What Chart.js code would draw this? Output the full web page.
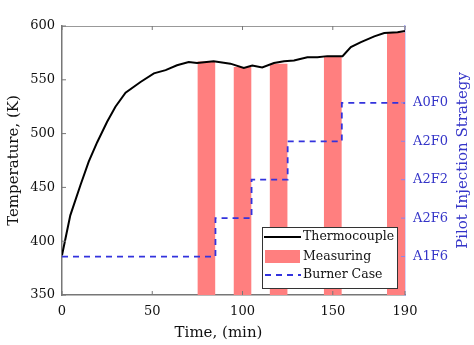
<!DOCTYPE html>
<html>
<head>
<meta charset="utf-8">
<script src="https://cdn.jsdelivr.net/npm/chart.js@4.4.0/dist/chart.umd.min.js"></script>
<style>
    html, body { margin: 0; padding: 0; background: #fff; }
    #wrap { width: 474px; height: 345px; position: relative; }
</style>
</head>
<body>
<div id="wrap"><canvas id="chart"></canvas></div>
<script>
// thermocouple reading over time
const timeMin = [0, 4.6, 10.2, 14.8, 19.5, 25, 29.6, 35.2, 43.5, 50.9, 57.4, 63.7, 70.2, 74.8, 84, 93.3,
    100.7, 105.4, 110.9, 117.4, 123, 128.5, 135.9, 141.5, 147, 155.4, 160, 165.6, 173, 178.5, 185.9, 190];
const tempK = [387, 424, 452, 474, 492, 511, 525, 538, 548, 556, 559, 563.5, 566.5, 565.6, 567.2, 565,
    561, 563.2, 561.4, 565.6, 567.2, 568, 571, 571, 572, 572, 580.5, 585, 590.4, 593.5, 594.2, 595.4];

// measuring windows (start, end, top temperature)
const measStart = [75, 95, 115, 145, 180];
const measEnd = [85, 105, 125, 155, 190];
const measTop = [567, 562, 565, 572, 594];

// burner case steps
const strategies = ['A1F6', 'A2F6', 'A2F2', 'A2F0', 'A0F0'];
const caseTime = [0, 85, 105, 125, 155, 190];
const caseName = ['A1F6', 'A2F6', 'A2F2', 'A2F0', 'A0F0', 'A0F0'];

const xTicks = [0, 50, 100, 150, 190];
const yTicks = [350, 400, 450, 500, 550, 600];

const FONT = 'DejaVu Serif';
const BLUE = '#3333dd';
const BLUE_TXT = '#3535c8';
const RED = '#ff7f7f';

const datasets = [];
measStart.forEach((s, i) => {
    datasets.push({
        type: 'line',
        label: 'Measuring',
        data: [{ x: s, y: measTop[i] }, { x: measEnd[i], y: measTop[i] }],
        borderWidth: 0,
        pointRadius: 0,
        backgroundColor: RED,
        fill: 'start',
        yAxisID: 'y',
        order: 3
    });
});
datasets.push({
    type: 'line',
    label: 'Burner Case',
    data: caseTime.map((t, i) => ({ x: t, y: strategies.indexOf(caseName[i]) + 1 })),
    stepped: 'before',
    borderColor: BLUE,
    borderWidth: 1.8,
    borderDash: [6, 5],
    pointRadius: 0,
    fill: false,
    yAxisID: 'y2',
    order: 2
});
datasets.push({
    type: 'line',
    label: 'Thermocouple',
    data: timeMin.map((t, i) => ({ x: t, y: tempK[i] })),
    borderColor: '#000',
    borderWidth: 2,
    pointRadius: 0,
    tension: 0,
    fill: false,
    yAxisID: 'y',
    order: 1
});

// matlab style inward ticks
const innerTicks = {
    id: 'innerTicks',
    afterDatasetsDraw(chart) {
        const { ctx, chartArea: a, scales } = chart;
        ctx.save();
        ctx.lineWidth = 1;
        ctx.strokeStyle = '#777';
        xTicks.forEach(v => {
            const px = scales.x.getPixelForValue(v);
            ctx.beginPath();
            ctx.moveTo(px, a.bottom); ctx.lineTo(px, a.bottom - 4);
            ctx.moveTo(px, a.top); ctx.lineTo(px, a.top + 4);
            ctx.stroke();
        });
        yTicks.forEach(v => {
            const py = scales.y.getPixelForValue(v);
            ctx.beginPath();
            ctx.moveTo(a.left, py); ctx.lineTo(a.left + 4, py);
            ctx.stroke();
        });
        ctx.strokeStyle = '#8888ee';
        strategies.forEach((s, i) => {
            const py = scales.y2.getPixelForValue(i + 1);
            ctx.beginPath();
            ctx.moveTo(a.right, py); ctx.lineTo(a.right - 4, py);
            ctx.stroke();
        });
        ctx.restore();
    }
};

// bottom and right titles (right one reads bottom-to-top like the left one)
const sideTitles = {
    id: 'sideTitles',
    afterDraw(chart) {
        const { ctx, chartArea: a } = chart;
        const midY = (a.top + a.bottom) / 2;
        ctx.save();
        ctx.font = `15px "${FONT}"`;
        ctx.textAlign = 'center';
        ctx.textBaseline = 'middle';
        ctx.fillStyle = '#111';
        ctx.fillText('Time, (min)', (a.left + a.right) / 2 - 15, a.bottom + 38);
        ctx.translate(a.right + 58, midY);
        ctx.rotate(-Math.PI / 2);
        ctx.fillStyle = BLUE_TXT;
        ctx.fillText('Pilot Injection Strategy', 0, 0);
        ctx.restore();
    }
};

// legend box in the lower right of the plot
const boxLegend = {
    id: 'boxLegend',
    afterDraw(chart) {
        const { ctx, chartArea: a } = chart;
        const w = 135, h = 61;
        const x0 = a.right - 8 - w, y0 = a.bottom - 7 - h;
        ctx.save();
        ctx.fillStyle = '#fff';
        ctx.fillRect(x0, y0, w, h);
        ctx.strokeStyle = '#333';
        ctx.lineWidth = 1;
        ctx.strokeRect(x0 + 0.5, y0 + 0.5, w, h);
        const rows = [y0 + 10, y0 + 30, y0 + 48];
        ctx.strokeStyle = '#000';
        ctx.lineWidth = 2;
        ctx.beginPath(); ctx.moveTo(x0 + 2, rows[0]); ctx.lineTo(x0 + 39, rows[0]); ctx.stroke();
        ctx.fillStyle = RED;
        ctx.fillRect(x0 + 3, rows[1] - 7, 35, 13);
        ctx.strokeStyle = BLUE;
        ctx.lineWidth = 1.8;
        ctx.setLineDash([6, 5]);
        ctx.beginPath(); ctx.moveTo(x0 + 3, rows[2]); ctx.lineTo(x0 + 39, rows[2]); ctx.stroke();
        ctx.setLineDash([]);
        ctx.fillStyle = '#111';
        ctx.font = `12.5px "${FONT}"`;
        ctx.textBaseline = 'middle';
        ctx.fillText('Thermocouple', x0 + 41, rows[0]);
        ctx.fillText('Measuring', x0 + 41, rows[1]);
        ctx.fillText('Burner Case', x0 + 41, rows[2]);
        ctx.restore();
    }
};

new Chart(document.getElementById('chart'), {
    type: 'line',
    data: { datasets },
    options: {
        responsive: true,
        maintainAspectRatio: false,
        animation: false,
        layout: { padding: 0 },
        plugins: { legend: { display: false }, tooltip: { enabled: false } },
        scales: {
            x: {
                type: 'linear',
                min: 0, max: 190,
                afterBuildTicks: s => { s.ticks = xTicks.map(v => ({ value: v })); },
                afterFit: s => { s.height = 50; },
                grid: { drawOnChartArea: false, drawTicks: false },
                border: { color: '#777', width: 1.5 },
                ticks: { color: '#111', padding: 9, font: { family: FONT, size: 13 } },
                title: { display: false }
            },
            xTop: {
                type: 'linear',
                position: 'top',
                min: 0, max: 190,
                afterFit: s => { s.height = 26; },
                grid: { drawOnChartArea: false, drawTicks: false },
                border: { color: '#999', width: 1 },
                ticks: { display: false }
            },
            y: {
                min: 350, max: 600,
                afterBuildTicks: s => { s.ticks = yTicks.map(v => ({ value: v })); },
                afterFit: s => { s.width = 62; },
                grid: { drawOnChartArea: false, drawTicks: false },
                border: { color: '#777', width: 1.5 },
                ticks: { color: '#111', padding: 7, font: { family: FONT, size: 13 } },
                title: { display: true, text: 'Temperature, (K)', color: '#111', padding: { top: 5, bottom: 0 }, font: { family: FONT, size: 15 } }
            },
            y2: {
                position: 'right',
                min: 0, max: 7,
                afterBuildTicks: s => { s.ticks = strategies.map((n, i) => ({ value: i + 1 })); },
                afterFit: s => { s.width = 69; },
                grid: { drawOnChartArea: false, drawTicks: false },
                border: { color: '#aaaaf0', width: 1.5 },
                ticks: {
                    color: BLUE_TXT, padding: 8, font: { family: FONT, size: 13 },
                    callback: v => strategies[v - 1]
                },
                title: { display: false }
            }
        }
    },
    plugins: [innerTicks, sideTitles, boxLegend]
});
</script>
</body>
</html>
